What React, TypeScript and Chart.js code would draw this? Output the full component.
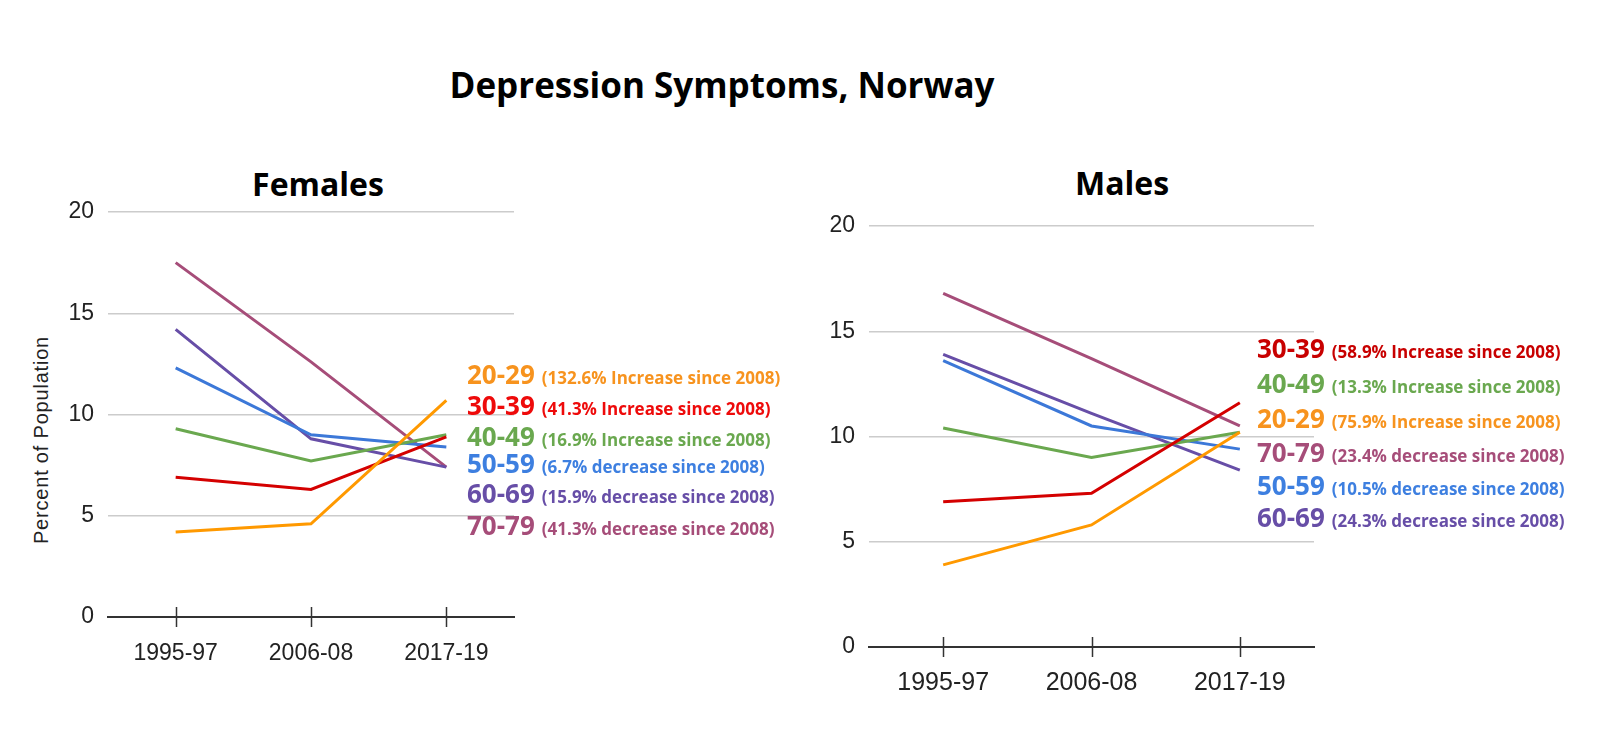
import React, { useEffect, useRef } from "react";
import Chart from "chart.js/auto";

const periods = ["1995-97", "2006-08", "2017-19"];
const ageGroups = ["20-29", "30-39", "40-49", "50-59", "60-69", "70-79"];
const yTicks = [0, 5, 10, 15, 20];

// percent of population, one array per age group
const female20 = [4.2, 4.6, 10.7];
const female30 = [6.9, 6.3, 8.9];
const female40 = [9.3, 7.7, 9.0];
const female50 = [12.3, 9.0, 8.4];
const female60 = [14.2, 8.8, 7.4];
const female70 = [17.5, 12.6, 7.4];

const male20 = [3.9, 5.8, 10.2];
const male30 = [6.9, 7.3, 11.6];
const male40 = [10.4, 9.0, 10.2];
const male50 = [13.6, 10.5, 9.4];
const male60 = [13.9, 11.1, 8.4];
const male70 = [16.8, 13.7, 10.5];

const femaleNotes = [
  "132.6% Increase since 2008",
  "41.3% Increase since 2008",
  "16.9% Increase since 2008",
  "6.7% decrease since 2008",
  "15.9% decrease since 2008",
  "41.3% decrease since 2008",
];
const maleNoteOrder = ["30-39", "40-49", "20-29", "70-79", "50-59", "60-69"];
const maleNotes = [
  "58.9% Increase since 2008",
  "13.3% Increase since 2008",
  "75.9% Increase since 2008",
  "23.4% decrease since 2008",
  "10.5% decrease since 2008",
  "24.3% decrease since 2008",
];

const lineColors: Record<string, string> = {
  "20-29": "#ff9900",
  "30-39": "#d40000",
  "40-49": "#6aa84f",
  "50-59": "#3c78d8",
  "60-69": "#674ea7",
  "70-79": "#a64d79",
};
const femaleLabelColors: Record<string, string> = {
  ...lineColors,
  "20-29": "#f7931e",
  "30-39": "#ee0a0a",
  "50-59": "#3d7fe0",
};
const maleLabelColors: Record<string, string> = {
  ...lineColors,
  "20-29": "#f7931e",
  "30-39": "#c80000",
  "50-59": "#3d7fe0",
};

const TICK_FONT = "'Liberation Sans', Arial, sans-serif";
const LABEL_FONT = "'Open Sans', sans-serif";

// small up/down tick marks crossing the x axis line
const crossTicks = {
  id: "crossTicks",
  afterDraw(chart: any) {
    const x = chart.scales.x;
    const y0 = chart.chartArea.bottom;
    const ctx = chart.ctx;
    ctx.save();
    ctx.strokeStyle = "#333";
    ctx.lineWidth = 1.5;
    x.ticks.forEach((_: any, i: number) => {
      const px = Math.round(x.getPixelForTick(i)) + 0.5;
      ctx.beginPath();
      ctx.moveTo(px, y0 - 10);
      ctx.lineTo(px, y0 + 10);
      ctx.stroke();
    });
    ctx.restore();
  },
};

type ChartProps = {
  series: number[][];
  left: number;
  top: number;
  width: number;
  height: number;
  axisWidth: number;
  axisHeight: number;
  pad: { top: number; right: number };
  xFont: number;
  xPad: number;
};

const LineChart = (prop: ChartProps) => {
  const ref = useRef<HTMLCanvasElement>(null!);

  useEffect(() => {
    const chart = new Chart(ref.current, {
      type: "line",
      data: {
        labels: periods,
        datasets: ageGroups.map((g, i) => ({
          label: g,
          data: prop.series[i],
          borderColor: lineColors[g],
          backgroundColor: lineColors[g],
          borderWidth: 3,
          pointRadius: 0,
          tension: 0,
          fill: false,
        })),
      },
      options: {
        animation: false,
        responsive: false,
        maintainAspectRatio: false,
        layout: { padding: { top: prop.pad.top, right: prop.pad.right, left: 0, bottom: 0 } },
        plugins: { legend: { display: false }, tooltip: { enabled: false } },
        scales: {
          x: {
            type: "category",
            offset: true,
            grid: { display: false, drawTicks: false },
            border: { display: true, color: "#333", width: 2 },
            ticks: {
              color: "#222",
              padding: prop.xPad,
              font: { family: TICK_FONT, size: prop.xFont },
              maxRotation: 0,
            },
            afterFit: (s: any) => {
              s.height = prop.axisHeight;
            },
          },
          y: {
            min: 0,
            max: 20,
            afterBuildTicks: (s: any) => {
              s.ticks = yTicks.map((v) => ({ value: v }));
            },
            grid: {
              color: (c: any) => (c.tick && c.tick.value === 0 ? "rgba(0,0,0,0)" : "#cccccc"),
              lineWidth: 1.5,
              drawTicks: false,
            },
            border: { display: false },
            ticks: {
              color: "#222",
              padding: 14,
              font: { family: TICK_FONT, size: 23 },
            },
            afterFit: (s: any) => {
              s.width = prop.axisWidth;
            },
          },
        },
      },
      plugins: [crossTicks],
    } as any);
    return () => {
      chart.destroy();
    };
  }, []);

  return (
    <canvas
      ref={ref}
      width={prop.width}
      height={prop.height}
      style={{ position: "absolute", left: prop.left, top: prop.top, width: prop.width, height: prop.height }}
    />
  );
};

// text placed by its baseline (Open Sans, line-height 1)
const Text = (p: { x: number; base: number; size: number; center?: boolean; children: React.ReactNode; color?: string }) => (
  <div
    style={{
      position: "absolute",
      left: p.x,
      top: p.base - 0.888 * p.size,
      transform: p.center ? "translateX(-50%)" : undefined,
      fontFamily: LABEL_FONT,
      fontWeight: 700,
      fontSize: p.size,
      lineHeight: 1,
      whiteSpace: "nowrap",
      color: p.color || "#000",
    }}
  >
    {p.children}
  </div>
);

const Notes = (p: { x: number; bases: number[]; groups: string[]; notes: string[]; colors: Record<string, string> }) => (
  <>
    {p.groups.map((g, i) => (
      <Text key={g} x={p.x} base={p.bases[i]} size={26} color={p.colors[g]}>
        {g}
        <span style={{ fontSize: 17, marginLeft: 7 }}>({p.notes[i]})</span>
      </Text>
    ))}
  </>
);

export default function App() {
  const femaleSeries = [female20, female30, female40, female50, female60, female70];
  const maleSeries = [male20, male30, male40, male50, male60, male70];

  return (
    <div style={{ position: "fixed", left: 0, top: 0, width: 1600, height: 733, background: "#fff", overflow: "hidden" }}>
      <Text x={722} base={98} size={35} center>
        Depression Symptoms, Norway
      </Text>
      <Text x={318} base={196} size={32} center>
        Females
      </Text>
      <Text x={1122} base={195} size={32} center>
        Males
      </Text>

      <div
        style={{
          position: "absolute",
          left: 41,
          top: 440,
          transform: "translate(-50%, -50%) rotate(-90deg)",
          fontFamily: TICK_FONT,
          fontSize: 20,
          letterSpacing: 0.8,
          color: "#222",
          whiteSpace: "nowrap",
        }}
      >
        Percent of Population
      </div>

      <LineChart
        series={femaleSeries}
        left={0}
        top={150}
        width={530}
        height={540}
        axisWidth={108}
        axisHeight={73}
        pad={{ top: 62, right: 16 }}
        xFont={23}
        xPad={23}
      />
      <LineChart
        series={maleSeries}
        left={760}
        top={150}
        width={570}
        height={560}
        axisWidth={109}
        axisHeight={63}
        pad={{ top: 76, right: 16 }}
        xFont={25}
        xPad={21}
      />

      <Notes x={467} bases={[384, 415, 446, 473, 503, 535]} groups={ageGroups} notes={femaleNotes} colors={femaleLabelColors} />
      <Notes x={1257} bases={[358, 393, 428, 462, 495, 527]} groups={maleNoteOrder} notes={maleNotes} colors={maleLabelColors} />
    </div>
  );
}
